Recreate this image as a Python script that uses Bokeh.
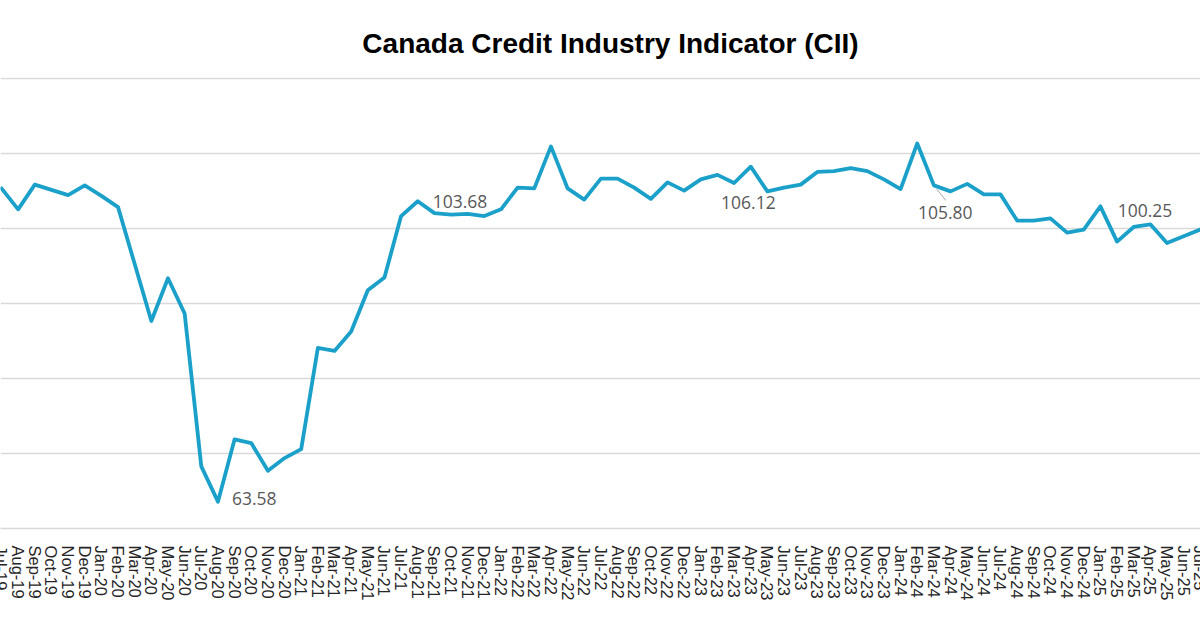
from bokeh.plotting import figure
from bokeh.models import Range1d, FixedTicker, Label, ColumnDataSource
from bokeh.embed import file_html
from bokeh.resources import INLINE

# Monthly CII readings, Jul-19 through Jul-25
months = [
    "Jul-19", "Aug-19", "Sep-19", "Oct-19", "Nov-19", "Dec-19",
    "Jan-20", "Feb-20", "Mar-20", "Apr-20", "May-20", "Jun-20",
    "Jul-20", "Aug-20", "Sep-20", "Oct-20", "Nov-20", "Dec-20",
    "Jan-21", "Feb-21", "Mar-21", "Apr-21", "May-21", "Jun-21",
    "Jul-21", "Aug-21", "Sep-21", "Oct-21", "Nov-21", "Dec-21",
    "Jan-22", "Feb-22", "Mar-22", "Apr-22", "May-22", "Jun-22",
    "Jul-22", "Aug-22", "Sep-22", "Oct-22", "Nov-22", "Dec-22",
    "Jan-23", "Feb-23", "Mar-23", "Apr-23", "May-23", "Jun-23",
    "Jul-23", "Aug-23", "Sep-23", "Oct-23", "Nov-23", "Dec-23",
    "Jan-24", "Feb-24", "Mar-24", "Apr-24", "May-24", "Jun-24",
    "Jul-24", "Aug-24", "Sep-24", "Oct-24", "Nov-24", "Dec-24",
    "Jan-25", "Feb-25", "Mar-25", "Apr-25", "May-25", "Jun-25",
    "Jul-25",
]

cii = [
    105.4, 102.6, 105.9, 105.2, 104.5, 105.8,
    104.4, 102.9, 95.3, 87.7, 93.4, 88.7,
    68.3, 63.58, 71.9, 71.4, 67.7, 69.4,
    70.6, 84.1, 83.7, 86.3, 91.8, 93.5,
    101.7, 103.68, 102.1, 101.9, 102.0, 101.7,
    102.6, 105.5, 105.4, 111.0, 105.4, 103.9,
    106.7, 106.7, 105.5, 104.0, 106.2, 105.1,
    106.6, 107.2, 106.12, 108.3, 105.0, 105.5,
    105.9, 107.6, 107.7, 108.1, 107.7, 106.6,
    105.3, 111.4, 105.80, 105.0, 106.0, 104.6,
    104.6, 101.1, 101.1, 101.4, 99.5, 99.9,
    103.0, 98.3, 100.25, 100.6, 98.1, 99.0,
    99.9,
]

y_ticks = [60, 70, 80, 90, 100, 110, 120]

# Months that carry a value label: (month, offset x px, offset y px)
labelled = [
    ("Aug-20", 14, 3),
    ("Aug-21", 15, 0),
    ("Mar-23", -13, -20),
    ("Mar-24", -16, -27),
    ("Mar-25", -16, 16),
]

idx = list(range(len(months)))
src = ColumnDataSource(dict(x=idx, y=cii))

# The canvas is a little wider than the page and pulled left, so the
# value axis and the outermost month labels run off the edges.
SHIFT = 20
p = figure(
    width=1240, height=630,
    x_range=Range1d(-0.06, -0.06 + 1220 / 16.65),
    y_range=Range1d(y_ticks[0], y_ticks[-1] + 0.2),
    output_backend="svg", toolbar_location=None,
    min_border_left=SHIFT, min_border_right=0,
    min_border_top=77, min_border_bottom=102,
    margin=(0, 0, 0, -SHIFT),
    title="Canada Credit Industry Indicator (CII)",
)
p.background_fill_color = "white"
p.border_fill_color = "white"
p.outline_line_color = None

p.title.align = "center"
p.title.text_font = "Liberation Sans"
p.title.text_font_style = "bold"
p.title.text_font_size = "28px"
p.title.text_color = "#000000"
p.title.standoff = 38

# grid
p.xgrid.visible = False
p.yaxis.visible = False
p.ygrid.ticker = FixedTicker(ticks=y_ticks)
p.ygrid.grid_line_color = "#d9d9d9"
p.ygrid.grid_line_width = 1.6

# month axis along the bottom
ax = p.xaxis[0]
ax.ticker = FixedTicker(ticks=idx)
ax.major_label_overrides = {i: m for i, m in enumerate(months)}
ax.major_label_orientation = "vertical"
ax.major_label_text_font = "Liberation Sans"
ax.major_label_text_font_size = "16.5px"
ax.major_label_text_color = "#262626"
ax.major_label_standoff = 11
ax.major_tick_line_color = None
ax.minor_tick_line_color = None
ax.axis_line_color = "#d9d9d9"
ax.axis_line_width = 1.6

p.line("x", "y", source=src, line_color="#1ba1c9", line_width=3.8,
       line_join="round", line_cap="round")

for m, dx, dy in labelled:
    i = months.index(m)
    v = cii[i]
    p.add_layout(Label(
        x=i, y=v, x_offset=dx, y_offset=dy, text=f"{v:.2f}",
        text_align="left", text_baseline="middle",
        text_font="Open Sans", text_font_size="17.5px", text_color="#595959",
    ))

# short leader from the Mar-24 point down to its label
i_lead = months.index("Mar-24")
px_x = 1 / 16.65
px_y = 1 / 7.5
p.segment(x0=[i_lead + 3 * px_x], y0=[cii[i_lead] - 4 * px_y],
          x1=[i_lead + 12 * px_x], y1=[cii[i_lead] - 15 * px_y],
          line_color="#a6a6a6", line_width=1)

html = file_html(p, INLINE)
html = html.replace("<head>", "<head><style>html,body{margin:0;overflow:hidden}</style>", 1)
open("out.html", "w").write(html)
